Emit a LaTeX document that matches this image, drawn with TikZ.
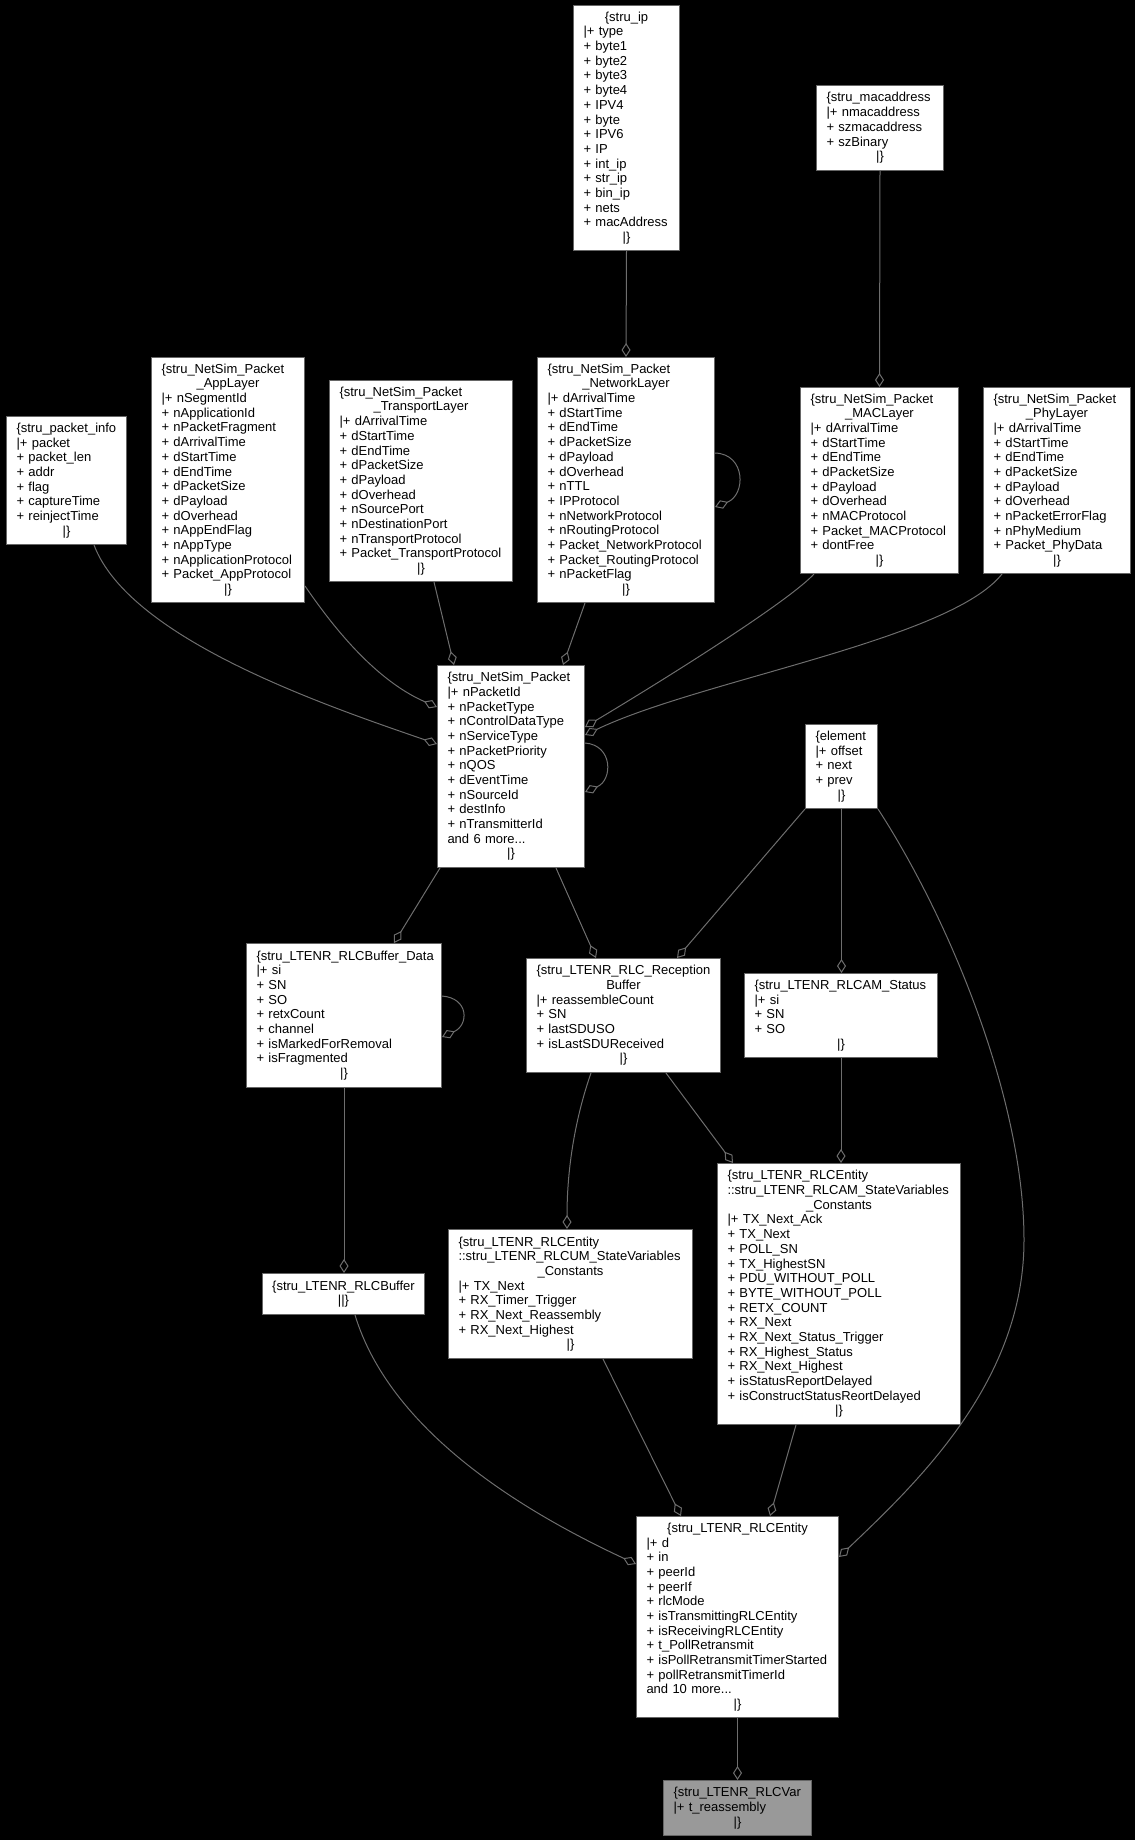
\documentclass[tikz,border=0pt]{standalone}
\usepackage{fontspec}
\setmainfont{Liberation Sans}
\usetikzlibrary{arrows.meta,calc}
\definecolor{edgecol}{HTML}{6E6E6E}
\definecolor{boxborder}{HTML}{666666}
\definecolor{hlfill}{HTML}{999999}
\newcommand\fsz{\fontsize{13pt}{14.67pt}\selectfont}
\newcommand\hdl[1]{\mbox{#1}\\}
\newcommand\hdc[1]{\makebox[\linewidth][c]{#1}\\}
\newcommand\fld[1]{\mbox{+ #1}\\}
\newcommand\ffld[1]{\mbox{|+ #1}\\}
\newcommand\ctl[1]{\makebox[\linewidth][c]{#1}}
\newcommand\cbox[8][]{\node[cls,#1, minimum width=#5pt, minimum height=#6pt, text width=#7pt] (#2) at (#3,#4) {#8};}
\begin{document}
\begin{tikzpicture}[x=1pt,y=-1pt,
  cls/.style={draw=boxborder, fill=white, line width=1pt, rectangle, anchor=north west,
    inner xsep=10pt, inner ysep=0pt, align=left, font=\fsz, text=black},
  conn/.style={draw=edgecol, line width=1pt, -{Diamond[open, length=14pt, width=9pt]}}]
\useasboundingbox (0,0) rectangle (1135,1840);
\fill[black] (0,0) rectangle (1135,1840);

% ---------- boxes ----------
\cbox{ip}{573}{5}{106}{245}{86}{\hdc{\{stru\_ip}\ffld{type}\fld{byte1}\fld{byte2}\fld{byte3}\fld{byte4}\fld{IPV4}\fld{byte}\fld{IPV6}\fld{IP}\fld{int\_ip}\fld{str\_ip}\fld{bin\_ip}\fld{nets}\fld{macAddress}\ctl{|\}}}

\cbox{mac}{816}{85}{127}{85}{107}{\hdl{\{stru\_macaddress}\ffld{nmacaddress}\fld{szmacaddress}\fld{szBinary}\ctl{|\}}}

\cbox{pinfo}{6}{416}{120}{128}{100}{\hdl{\{stru\_packet\_info}\ffld{packet}\fld{packet\_len}\fld{addr}\fld{flag}\fld{captureTime}\fld{reinjectTime}\ctl{|\}}}

\cbox{app}{151}{357}{153}{245}{133}{\hdl{\{stru\_NetSim\_Packet}\hdc{\_AppLayer}\ffld{nSegmentId}\fld{nApplicationId}\fld{nPacketFragment}\fld{dArrivalTime}\fld{dStartTime}\fld{dEndTime}\fld{dPacketSize}\fld{dPayload}\fld{dOverhead}\fld{nAppEndFlag}\fld{nAppType}\fld{nApplicationProtocol}\fld{Packet\_AppProtocol}\ctl{|\}}}

\cbox{trans}{329}{380}{183}{201}{163}{\hdl{\{stru\_NetSim\_Packet}\hdc{\_TransportLayer}\ffld{dArrivalTime}\fld{dStartTime}\fld{dEndTime}\fld{dPacketSize}\fld{dPayload}\fld{dOverhead}\fld{nSourcePort}\fld{nDestinationPort}\fld{nTransportProtocol}\fld{Packet\_TransportProtocol}\ctl{|\}}}

\cbox{netl}{537}{357}{177}{245}{157}{\hdl{\{stru\_NetSim\_Packet}\hdc{\_NetworkLayer}\ffld{dArrivalTime}\fld{dStartTime}\fld{dEndTime}\fld{dPacketSize}\fld{dPayload}\fld{dOverhead}\fld{nTTL}\fld{IPProtocol}\fld{nNetworkProtocol}\fld{nRoutingProtocol}\fld{Packet\_NetworkProtocol}\fld{Packet\_RoutingProtocol}\fld{nPacketFlag}\ctl{|\}}}

\cbox{macl}{800}{387}{158}{186}{138}{\hdl{\{stru\_NetSim\_Packet}\hdc{\_MACLayer}\ffld{dArrivalTime}\fld{dStartTime}\fld{dEndTime}\fld{dPacketSize}\fld{dPayload}\fld{dOverhead}\fld{nMACProtocol}\fld{Packet\_MACProtocol}\fld{dontFree}\ctl{|\}}}

\cbox{phyl}{983}{387}{147}{186}{127}{\hdl{\{stru\_NetSim\_Packet}\hdc{\_PhyLayer}\ffld{dArrivalTime}\fld{dStartTime}\fld{dEndTime}\fld{dPacketSize}\fld{dPayload}\fld{dOverhead}\fld{nPacketErrorFlag}\fld{nPhyMedium}\fld{Packet\_PhyData}\ctl{|\}}}

\cbox{netp}{437}{665}{147}{202}{127}{\hdl{\{stru\_NetSim\_Packet}\ffld{nPacketId}\fld{nPacketType}\fld{nControlDataType}\fld{nServiceType}\fld{nPacketPriority}\fld{nQOS}\fld{dEventTime}\fld{nSourceId}\fld{destInfo}\fld{nTransmitterId}\hdl{and 6 more...}\ctl{|\}}}

\cbox{elem}{805}{724}{72}{84}{52}{\hdl{\{element}\ffld{offset}\fld{next}\fld{prev}\ctl{|\}}}

\cbox{bdata}{246}{943}{195}{144}{175}{\hdl{\{stru\_LTENR\_RLCBuffer\_Data}\ffld{si}\fld{SN}\fld{SO}\fld{retxCount}\fld{channel}\fld{isMarkedForRemoval}\fld{isFragmented}\ctl{|\}}}

\cbox{rbuf}{526}{958}{194}{114}{174}{\hdl{\{stru\_LTENR\_RLC\_Reception}\hdc{Buffer}\ffld{reassembleCount}\fld{SN}\fld{lastSDUSO}\fld{isLastSDUReceived}\ctl{|\}}}

\cbox{amst}{744}{973}{193}{84}{173}{\hdl{\{stru\_LTENR\_RLCAM\_Status}\ffld{si}\fld{SN}\fld{SO}\ctl{|\}}}

\cbox{am}{717}{1163}{243}{261}{223}{\hdl{\{stru\_LTENR\_RLCEntity}\hdl{::stru\_LTENR\_RLCAM\_StateVariables}\hdc{\_Constants}\ffld{TX\_Next\_Ack}\fld{TX\_Next}\fld{POLL\_SN}\fld{TX\_HighestSN}\fld{PDU\_WITHOUT\_POLL}\fld{BYTE\_WITHOUT\_POLL}\fld{RETX\_COUNT}\fld{RX\_Next}\fld{RX\_Next\_Status\_Trigger}\fld{RX\_Highest\_Status}\fld{RX\_Next\_Highest}\fld{isStatusReportDelayed}\fld{isConstructStatusReortDelayed}\ctl{|\}}}

\cbox{um}{448}{1229}{244}{129}{224}{\hdl{\{stru\_LTENR\_RLCEntity}\hdl{::stru\_LTENR\_RLCUM\_StateVariables}\hdc{\_Constants}\ffld{TX\_Next}\fld{RX\_Timer\_Trigger}\fld{RX\_Next\_Reassembly}\fld{RX\_Next\_Highest}\ctl{|\}}}

\cbox{rlcb}{262}{1273}{162}{41}{142}{\hdc{\{stru\_LTENR\_RLCBuffer}\ctl{||\}}}

\cbox{ent}{636}{1516}{202}{201}{182}{\hdc{\{stru\_LTENR\_RLCEntity}\ffld{d}\fld{in}\fld{peerId}\fld{peerIf}\fld{rlcMode}\fld{isTransmittingRLCEntity}\fld{isReceivingRLCEntity}\fld{t\_PollRetransmit}\fld{isPollRetransmitTimerStarted}\fld{pollRetransmitTimerId}\hdl{and 10 more...}\ctl{|\}}}

\cbox[fill=hlfill]{var}{663}{1780}{148}{55}{128}{\hdl{\{stru\_LTENR\_RLCVar}\ffld{t\_reassembly}\ctl{|\}}}

% ---------- connectors ----------
\draw[conn] (ip.south) -- (netl.north);
\draw[conn] (mac.south) -- (macl.north);
\draw[conn] ($(netl.north east)+(0,96)$) .. controls ($(netl.north east)+(31,97)$) and ($(netl.north east)+(31,138)$) .. ($(netl.north east)+(0,150)$);
\draw[conn] ($(pinfo.south west)+(88,0)$) .. controls (130,640) and (330,707) .. ($(netp.north west)+(0,79)$);
\draw[conn] ($(app.south east)+(0,-17)$) .. controls (325,615) and (370,678) .. ($(netp.north west)+(0,42)$);
\draw[conn] ($(trans.south west)+(105,0)$) -- ($(netp.north west)+(17,0)$);
\draw[conn] ($(netl.south west)+(48,0)$) -- ($(netp.north west)+(126,0)$);
\draw[conn] ($(macl.south west)+(14,0)$) .. controls (790,600) and (680,670) .. ($(netp.north east)+(0,62)$);
\draw[conn] ($(phyl.south west)+(19,0)$) .. controls (950,640) and (700,680) .. ($(netp.north east)+(0,70)$);
\draw[conn] ($(netp.north east)+(0,78)$) .. controls ($(netp.north east)+(28,80)$) and ($(netp.north east)+(28,115)$) .. ($(netp.north east)+(0,127)$);
\draw[conn] ($(netp.south west)+(3,0)$) -- ($(bdata.north west)+(148,0)$);
\draw[conn] ($(netp.south west)+(119,0)$) -- ($(rbuf.north west)+(70,0)$);
\draw[conn] (elem.south west) -- ($(rbuf.north west)+(151,0)$);
\draw[conn] (elem.south) -- (elem.south |- amst.north);
\draw[conn] (elem.south east) .. controls (950,920) and (1024,1100) .. (1024,1240) .. controls (1024,1380) and (920,1480) .. ($(ent.north east)+(0,41)$);
\draw[conn] ($(bdata.north east)+(0,53)$) .. controls ($(bdata.north east)+(27,55)$) and ($(bdata.north east)+(27,82)$) .. ($(bdata.north east)+(0,94)$);
\draw[conn] (bdata.south) -- (bdata.south |- rlcb.north);
\draw[conn] ($(rbuf.south west)+(65,0)$) .. controls (578,1110) and (567,1160) .. ($(um.north west)+(119,0)$);
\draw[conn] ($(rbuf.south west)+(140,0)$) -- ($(am.north west)+(16,0)$);
\draw[conn] (amst.south) -- (amst.south |- am.north);
\draw[conn] ($(rlcb.south west)+(93,0)$) .. controls (390,1430) and (520,1510) .. ($(ent.north west)+(0,48)$);
\draw[conn] ($(um.south west)+(155,0)$) -- ($(ent.north west)+(45,0)$);
\draw[conn] ($(am.south west)+(79,0)$) -- ($(ent.north west)+(134,0)$);
\draw[conn] (ent.south) -- (var.north);
\end{tikzpicture}
\end{document}
